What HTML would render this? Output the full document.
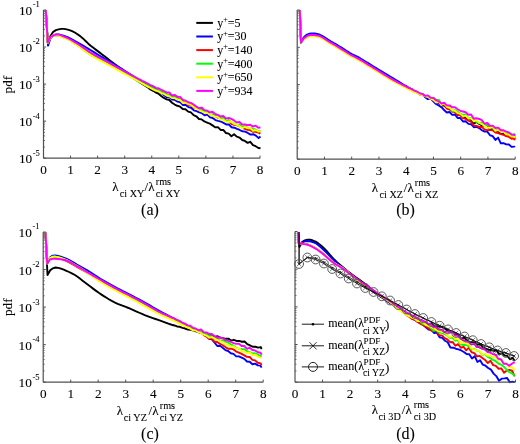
<!DOCTYPE html>
<html><head><meta charset="utf-8"><title>pdf figure</title>
<style>
html,body{margin:0;padding:0;background:#fff;}
body{width:520px;height:444px;overflow:hidden;}
svg{display:block;}
text{font-family:'Liberation Serif','Times New Roman',serif;fill:#000;stroke:#000;stroke-width:0.08px;}
</style></head><body>
<svg width="520" height="444" viewBox="0 0 520 444">
<rect width="520" height="444" fill="#fff"/>
<polyline points="45.80,10.00 47.80,43.00 50.50,35.96 53.20,31.83 55.90,30.18 58.60,29.40 61.30,28.90 64.00,28.85 66.70,29.33 69.40,30.12 72.10,31.10 74.80,32.53 77.50,34.26 80.20,36.14 82.90,38.40 85.60,41.04 88.30,43.69 91.00,46.02 93.70,48.11 96.40,50.12 99.10,52.12 101.80,54.18 104.50,56.27 107.20,58.36 109.90,60.42 112.60,62.47 115.30,64.49 118.00,66.51 120.70,68.52 123.40,70.56 126.10,72.61 128.80,74.66 131.50,76.68 134.20,78.64 136.90,80.53 139.60,82.32 142.30,84.02 145.00,85.67 147.70,87.33 150.40,89.40 153.10,90.78 155.80,92.58 158.50,93.67 161.20,95.90 163.90,97.95 166.60,99.41 169.30,99.97 172.00,102.77 174.70,104.55 177.40,105.77 180.10,106.66 182.80,109.01 185.50,109.30 188.20,111.60 190.90,112.43 193.60,115.13 196.30,116.28 199.00,118.99 201.70,119.39 204.40,121.44 207.10,122.52 209.80,123.62 212.50,125.38 215.20,127.33 217.90,127.15 220.60,129.93 223.30,129.83 226.00,133.05 228.70,133.60 231.40,136.25 234.10,134.27 236.80,136.65 239.50,137.54 242.20,140.01 244.90,140.94 247.60,142.89 250.30,141.84 253.00,145.16 255.70,146.22 258.40,147.94 260.50,148.27" fill="none" stroke="#000000" stroke-width="1.9" stroke-linejoin="round" stroke-linecap="butt" />
<polyline points="45.80,10.00 48.00,45.60 50.70,37.80 53.40,35.23 56.10,34.52 58.80,34.49 61.50,35.10 64.20,35.99 66.90,36.95 69.60,38.18 72.30,39.61 75.00,41.12 77.70,42.61 80.40,44.11 83.10,45.67 85.80,47.28 88.50,48.90 91.20,50.52 93.90,52.17 96.60,53.84 99.30,55.51 102.00,57.18 104.70,58.82 107.40,60.42 110.10,61.99 112.80,63.54 115.50,65.11 118.20,66.71 120.90,68.36 123.60,70.07 126.30,71.83 129.00,73.60 131.70,75.38 134.40,77.12 137.10,78.83 139.80,80.53 142.50,82.24 145.20,83.97 147.90,85.37 150.60,87.24 153.30,88.71 156.00,90.46 158.70,91.99 161.40,93.13 164.10,95.33 166.80,97.20 169.50,97.34 172.20,99.67 174.90,99.92 177.60,101.65 180.30,102.30 183.00,105.03 185.70,104.91 188.40,107.11 191.10,107.77 193.80,110.29 196.50,111.15 199.20,112.29 201.90,113.19 204.60,115.36 207.30,114.67 210.00,117.42 212.70,117.97 215.40,120.10 218.10,120.89 220.80,121.50 223.50,122.92 226.20,124.44 228.90,124.48 231.60,127.28 234.30,127.73 237.00,128.95 239.70,129.98 242.40,131.31 245.10,131.63 247.80,132.96 250.50,134.62 253.20,134.21 255.90,135.60 258.60,138.09 260.50,136.52" fill="none" stroke="#0000ff" stroke-width="1.9" stroke-linejoin="round" stroke-linecap="butt" />
<polyline points="45.80,10.00 47.80,43.00 50.50,37.52 53.20,35.49 55.90,35.03 58.60,35.47 61.30,36.27 64.00,37.24 66.70,38.30 69.40,39.71 72.10,41.39 74.80,43.20 77.50,45.00 80.20,46.87 82.90,48.89 85.60,50.94 88.30,52.88 91.00,54.61 93.70,56.19 96.40,57.68 99.10,59.11 101.80,60.52 104.50,61.93 107.20,63.36 109.90,64.75 112.60,66.13 115.30,67.52 118.00,68.93 120.70,70.38 123.40,71.89 126.10,73.43 128.80,74.99 131.50,76.54 134.20,78.06 136.90,79.54 139.60,81.02 142.30,82.38 145.00,83.91 147.70,85.16 150.40,86.99 153.10,87.81 155.80,89.11 158.50,90.58 161.20,91.99 163.90,92.21 166.60,94.32 169.30,94.84 172.00,96.46 174.70,97.07 177.40,97.99 180.10,99.29 182.80,102.17 185.50,102.52 188.20,104.74 190.90,105.27 193.60,107.81 196.30,106.80 199.00,110.07 201.70,108.70 204.40,111.72 207.10,111.17 209.80,114.72 212.50,115.28 215.20,116.50 217.90,117.58 220.60,118.47 223.30,119.12 226.00,121.13 228.70,120.70 231.40,123.81 234.10,124.89 236.80,125.06 239.50,126.26 242.20,127.79 244.90,128.88 247.60,129.91 250.30,130.13 253.00,131.91 255.70,131.77 258.40,132.58 260.40,133.70" fill="none" stroke="#ff0000" stroke-width="1.9" stroke-linejoin="round" stroke-linecap="butt" />
<polyline points="45.80,10.00 47.80,43.00 50.50,37.52 53.20,35.49 55.90,35.04 58.60,35.52 61.30,36.38 64.00,37.42 66.70,38.52 69.40,39.94 72.10,41.61 74.80,43.40 77.50,45.20 80.20,47.09 82.90,49.13 85.60,51.21 88.30,53.18 91.00,54.92 93.70,56.50 96.40,57.98 99.10,59.41 101.80,60.81 104.50,62.23 107.20,63.67 109.90,65.09 112.60,66.50 115.30,67.91 118.00,69.33 120.70,70.78 123.40,72.24 126.10,73.71 128.80,75.20 131.50,76.68 134.20,78.16 136.90,79.65 139.60,81.17 142.30,82.69 145.00,84.39 147.70,85.63 150.40,87.07 153.10,88.30 155.80,89.51 158.50,90.61 161.20,91.65 163.90,92.84 166.60,94.44 169.30,95.28 172.00,96.49 174.70,97.44 177.40,98.69 180.10,99.43 182.80,101.70 185.50,100.54 188.20,103.70 190.90,104.24 193.60,106.07 196.30,106.78 199.00,108.07 201.70,109.73 204.40,111.77 207.10,111.78 209.80,115.03 212.50,114.15 215.20,116.21 217.90,115.84 220.60,118.41 223.30,117.94 226.00,121.07 228.70,120.08 231.40,122.48 234.10,123.67 236.80,125.14 239.50,124.39 242.20,127.06 244.90,126.00 247.60,128.17 250.30,127.90 253.00,128.97 255.70,129.43 258.40,131.56 260.40,130.32" fill="none" stroke="#00ff00" stroke-width="1.9" stroke-linejoin="round" stroke-linecap="butt" />
<polyline points="45.80,10.00 47.75,43.00 50.45,37.64 53.15,35.22 55.85,35.13 58.55,35.70 61.25,36.59 63.95,37.60 66.65,38.70 69.35,40.13 72.05,41.82 74.75,43.64 77.45,45.47 80.15,47.37 82.85,49.44 85.55,51.54 88.25,53.53 90.95,55.29 93.65,56.89 96.35,58.39 99.05,59.83 101.75,61.25 104.45,62.70 107.15,64.18 109.85,65.66 112.55,67.13 115.25,68.60 117.95,70.08 120.65,71.56 123.35,73.05 126.05,74.55 128.75,76.04 131.45,77.54 134.15,79.03 136.85,80.53 139.55,82.04 142.25,83.54 144.95,85.14 147.65,86.58 150.35,87.98 153.05,89.32 155.75,90.57 158.45,91.37 161.15,93.05 163.85,93.85 166.55,95.51 169.25,96.31 171.95,98.08 174.65,98.11 177.35,99.59 180.05,99.91 182.75,102.99 185.45,102.49 188.15,103.95 190.85,104.83 193.55,107.08 196.25,108.35 198.95,109.99 201.65,111.39 204.35,112.68 207.05,112.79 209.75,114.51 212.45,115.62 215.15,116.90 217.85,116.84 220.55,119.60 223.25,119.52 225.95,121.94 228.65,121.55 231.35,121.76 234.05,124.01 236.75,124.39 239.45,126.19 242.15,128.28 244.85,126.82 247.55,128.16 250.25,127.86 252.95,130.87 255.65,130.01 258.35,131.44 260.40,131.18" fill="none" stroke="#ffff00" stroke-width="1.9" stroke-linejoin="round" stroke-linecap="butt" />
<polyline points="45.80,10.00 47.75,42.50 50.45,37.00 53.15,35.38 55.85,34.58 58.55,34.65 61.25,35.46 63.95,36.57 66.65,37.69 69.35,39.02 72.05,40.53 74.75,42.14 77.45,43.77 80.15,45.49 82.85,47.35 85.55,49.25 88.25,51.09 90.95,52.77 93.65,54.34 96.35,55.84 99.05,57.29 101.75,58.74 104.45,60.20 107.15,61.68 109.85,63.16 112.55,64.63 115.25,66.10 117.95,67.58 120.65,69.06 123.35,70.56 126.05,72.07 128.75,73.57 131.45,75.07 134.15,76.54 136.85,77.99 139.55,79.44 142.25,80.85 144.95,82.18 147.65,83.50 150.35,85.04 153.05,86.14 155.75,87.90 158.45,88.30 161.15,89.79 163.85,90.98 166.55,92.43 169.25,92.43 171.95,95.50 174.65,94.89 177.35,96.87 180.05,96.86 182.75,99.95 185.45,100.56 188.15,102.26 190.85,102.91 193.55,104.56 196.25,106.60 198.95,108.24 201.65,107.55 204.35,110.07 207.05,110.67 209.75,112.39 212.45,111.71 215.15,113.99 217.85,114.84 220.55,116.46 223.25,116.02 225.95,118.64 228.65,117.84 231.35,118.95 234.05,120.40 236.75,122.39 239.45,122.01 242.15,124.53 244.85,124.38 247.55,125.26 250.25,124.73 252.95,126.64 255.65,125.64 258.35,127.79 260.40,127.39" fill="none" stroke="#ff00ff" stroke-width="1.9" stroke-linejoin="round" stroke-linecap="butt" />
<line x1="43.5" y1="10" x2="43.5" y2="158.2" stroke="#505050" stroke-width="1.2"/>
<line x1="43.5" y1="158.2" x2="260.0" y2="158.2" stroke="#505050" stroke-width="1.2"/>
<line x1="70.56" y1="158.2" x2="70.56" y2="155.6" stroke="#505050" stroke-width="1"/>
<line x1="97.62" y1="158.2" x2="97.62" y2="155.6" stroke="#505050" stroke-width="1"/>
<line x1="124.69" y1="158.2" x2="124.69" y2="155.6" stroke="#505050" stroke-width="1"/>
<line x1="151.75" y1="158.2" x2="151.75" y2="155.6" stroke="#505050" stroke-width="1"/>
<line x1="178.81" y1="158.2" x2="178.81" y2="155.6" stroke="#505050" stroke-width="1"/>
<line x1="205.88" y1="158.2" x2="205.88" y2="155.6" stroke="#505050" stroke-width="1"/>
<line x1="232.94" y1="158.2" x2="232.94" y2="155.6" stroke="#505050" stroke-width="1"/>
<line x1="260.00" y1="158.2" x2="260.00" y2="155.6" stroke="#505050" stroke-width="1"/>
<line x1="43.5" y1="10.00" x2="46.1" y2="10.00" stroke="#505050" stroke-width="1"/>
<line x1="43.5" y1="35.90" x2="45.0" y2="35.90" stroke="#505050" stroke-width="0.8"/>
<line x1="43.5" y1="29.37" x2="45.0" y2="29.37" stroke="#505050" stroke-width="0.8"/>
<line x1="43.5" y1="24.74" x2="45.0" y2="24.74" stroke="#505050" stroke-width="0.8"/>
<line x1="43.5" y1="21.15" x2="45.0" y2="21.15" stroke="#505050" stroke-width="0.8"/>
<line x1="43.5" y1="18.22" x2="45.0" y2="18.22" stroke="#505050" stroke-width="0.8"/>
<line x1="43.5" y1="15.74" x2="45.0" y2="15.74" stroke="#505050" stroke-width="0.8"/>
<line x1="43.5" y1="13.59" x2="45.0" y2="13.59" stroke="#505050" stroke-width="0.8"/>
<line x1="43.5" y1="11.70" x2="45.0" y2="11.70" stroke="#505050" stroke-width="0.8"/>
<line x1="43.5" y1="47.05" x2="46.1" y2="47.05" stroke="#505050" stroke-width="1"/>
<line x1="43.5" y1="72.95" x2="45.0" y2="72.95" stroke="#505050" stroke-width="0.8"/>
<line x1="43.5" y1="66.42" x2="45.0" y2="66.42" stroke="#505050" stroke-width="0.8"/>
<line x1="43.5" y1="61.79" x2="45.0" y2="61.79" stroke="#505050" stroke-width="0.8"/>
<line x1="43.5" y1="58.20" x2="45.0" y2="58.20" stroke="#505050" stroke-width="0.8"/>
<line x1="43.5" y1="55.27" x2="45.0" y2="55.27" stroke="#505050" stroke-width="0.8"/>
<line x1="43.5" y1="52.79" x2="45.0" y2="52.79" stroke="#505050" stroke-width="0.8"/>
<line x1="43.5" y1="50.64" x2="45.0" y2="50.64" stroke="#505050" stroke-width="0.8"/>
<line x1="43.5" y1="48.75" x2="45.0" y2="48.75" stroke="#505050" stroke-width="0.8"/>
<line x1="43.5" y1="84.10" x2="46.1" y2="84.10" stroke="#505050" stroke-width="1"/>
<line x1="43.5" y1="110.00" x2="45.0" y2="110.00" stroke="#505050" stroke-width="0.8"/>
<line x1="43.5" y1="103.47" x2="45.0" y2="103.47" stroke="#505050" stroke-width="0.8"/>
<line x1="43.5" y1="98.84" x2="45.0" y2="98.84" stroke="#505050" stroke-width="0.8"/>
<line x1="43.5" y1="95.25" x2="45.0" y2="95.25" stroke="#505050" stroke-width="0.8"/>
<line x1="43.5" y1="92.32" x2="45.0" y2="92.32" stroke="#505050" stroke-width="0.8"/>
<line x1="43.5" y1="89.84" x2="45.0" y2="89.84" stroke="#505050" stroke-width="0.8"/>
<line x1="43.5" y1="87.69" x2="45.0" y2="87.69" stroke="#505050" stroke-width="0.8"/>
<line x1="43.5" y1="85.80" x2="45.0" y2="85.80" stroke="#505050" stroke-width="0.8"/>
<line x1="43.5" y1="121.15" x2="46.1" y2="121.15" stroke="#505050" stroke-width="1"/>
<line x1="43.5" y1="147.05" x2="45.0" y2="147.05" stroke="#505050" stroke-width="0.8"/>
<line x1="43.5" y1="140.52" x2="45.0" y2="140.52" stroke="#505050" stroke-width="0.8"/>
<line x1="43.5" y1="135.89" x2="45.0" y2="135.89" stroke="#505050" stroke-width="0.8"/>
<line x1="43.5" y1="132.30" x2="45.0" y2="132.30" stroke="#505050" stroke-width="0.8"/>
<line x1="43.5" y1="129.37" x2="45.0" y2="129.37" stroke="#505050" stroke-width="0.8"/>
<line x1="43.5" y1="126.89" x2="45.0" y2="126.89" stroke="#505050" stroke-width="0.8"/>
<line x1="43.5" y1="124.74" x2="45.0" y2="124.74" stroke="#505050" stroke-width="0.8"/>
<line x1="43.5" y1="122.85" x2="45.0" y2="122.85" stroke="#505050" stroke-width="0.8"/>
<line x1="43.5" y1="158.20" x2="46.1" y2="158.20" stroke="#505050" stroke-width="1"/>
<text x="43.50" y="173.60" text-anchor="middle" font-size="13.2">0</text>
<text x="70.56" y="173.60" text-anchor="middle" font-size="13.2">1</text>
<text x="97.62" y="173.60" text-anchor="middle" font-size="13.2">2</text>
<text x="124.69" y="173.60" text-anchor="middle" font-size="13.2">3</text>
<text x="151.75" y="173.60" text-anchor="middle" font-size="13.2">4</text>
<text x="178.81" y="173.60" text-anchor="middle" font-size="13.2">5</text>
<text x="205.88" y="173.60" text-anchor="middle" font-size="13.2">6</text>
<text x="232.94" y="173.60" text-anchor="middle" font-size="13.2">7</text>
<text x="260.00" y="173.60" text-anchor="middle" font-size="13.2">8</text>
<text x="32.20" y="15.20" text-anchor="end" font-size="13.3">10</text>
<text x="32.70" y="7.40" font-size="8.5">-1</text>
<text x="32.20" y="52.25" text-anchor="end" font-size="13.3">10</text>
<text x="32.70" y="44.45" font-size="8.5">-2</text>
<text x="32.20" y="89.30" text-anchor="end" font-size="13.3">10</text>
<text x="32.70" y="81.50" font-size="8.5">-3</text>
<text x="32.20" y="126.35" text-anchor="end" font-size="13.3">10</text>
<text x="32.70" y="118.55" font-size="8.5">-4</text>
<text x="32.20" y="163.40" text-anchor="end" font-size="13.3">10</text>
<text x="32.70" y="155.60" font-size="8.5">-5</text>
<line x1="196.3" y1="22.90" x2="212.9" y2="22.90" stroke="#000000" stroke-width="2"/>
<text x="217.2" y="26.80" font-size="12">y<tspan font-size="8.2" dy="-4.7">+</tspan><tspan dy="4.7">=5</tspan></text>
<line x1="196.3" y1="36.50" x2="212.9" y2="36.50" stroke="#0000ff" stroke-width="2"/>
<text x="217.2" y="40.40" font-size="12">y<tspan font-size="8.2" dy="-4.7">+</tspan><tspan dy="4.7">=30</tspan></text>
<line x1="196.3" y1="50.10" x2="212.9" y2="50.10" stroke="#ff0000" stroke-width="2"/>
<text x="217.2" y="54.00" font-size="12">y<tspan font-size="8.2" dy="-4.7">+</tspan><tspan dy="4.7">=140</tspan></text>
<line x1="196.3" y1="63.70" x2="212.9" y2="63.70" stroke="#00ff00" stroke-width="2"/>
<text x="217.2" y="67.60" font-size="12">y<tspan font-size="8.2" dy="-4.7">+</tspan><tspan dy="4.7">=400</tspan></text>
<line x1="196.3" y1="77.30" x2="212.9" y2="77.30" stroke="#ffff00" stroke-width="2"/>
<text x="217.2" y="81.20" font-size="12">y<tspan font-size="8.2" dy="-4.7">+</tspan><tspan dy="4.7">=650</tspan></text>
<line x1="196.3" y1="90.90" x2="212.9" y2="90.90" stroke="#ff00ff" stroke-width="2"/>
<text x="217.2" y="94.80" font-size="12">y<tspan font-size="8.2" dy="-4.7">+</tspan><tspan dy="4.7">=934</tspan></text>
<polyline points="299.80,10.00 301.00,42.50 303.70,38.76 306.40,36.72 309.10,35.53 311.80,35.05 314.50,35.26 317.20,35.74 319.90,36.47 322.60,37.78 325.30,39.45 328.00,41.24 330.70,42.92 333.40,44.49 336.10,46.09 338.80,47.71 341.50,49.37 344.20,51.07 346.90,52.87 349.60,54.57 352.30,56.00 355.00,57.29 357.70,58.64 360.40,60.15 363.10,61.76 365.80,63.44 368.50,65.13 371.20,66.80 373.90,68.44 376.60,70.11 379.30,71.80 382.00,73.48 384.70,75.14 387.40,76.78 390.10,78.37 392.80,79.91 395.50,81.39 398.20,82.82 400.90,84.22 403.60,85.55 406.30,86.98 409.00,88.32 411.70,89.17 414.40,91.06 417.10,91.99 419.80,94.11 422.50,94.25 425.20,96.58 427.90,97.16 430.60,98.40 433.30,99.26 436.00,102.21 438.70,102.72 441.40,105.64 444.10,105.44 446.80,107.91 449.50,108.47 452.20,111.57 454.90,110.87 457.60,114.03 460.30,115.02 463.00,116.05 465.70,118.16 468.40,119.08 471.10,119.79 473.80,123.58 476.50,121.86 479.20,123.93 481.90,125.31 484.60,126.05 487.30,126.48 490.00,129.13 492.70,129.08 495.40,131.34 498.10,131.49 500.80,134.03 503.50,133.93 506.20,135.72 508.90,134.79 511.60,136.89 514.30,136.32 514.60,138.76" fill="none" stroke="#000000" stroke-width="1.9" stroke-linejoin="round" stroke-linecap="butt" />
<polyline points="299.80,10.00 301.00,42.50 303.70,37.45 306.40,34.99 309.10,33.80 311.80,33.35 314.50,33.56 317.20,34.04 319.90,34.77 322.60,36.08 325.30,37.75 328.00,39.54 330.70,41.22 333.40,42.79 336.10,44.39 338.80,46.01 341.50,47.67 344.20,49.37 346.90,51.17 349.60,52.87 352.30,54.30 355.00,55.59 357.70,56.94 360.40,58.45 363.10,60.06 365.80,61.74 368.50,63.43 371.20,65.10 373.90,66.73 376.60,68.37 379.30,70.01 382.00,71.65 384.70,73.29 387.40,74.92 390.10,76.55 392.80,78.18 395.50,79.80 398.20,81.43 400.90,83.04 403.60,84.76 406.30,86.11 409.00,87.93 411.70,89.24 414.40,91.71 417.10,92.41 419.80,94.15 422.50,94.61 425.20,97.12 427.90,99.15 430.60,98.43 433.30,101.36 436.00,104.02 438.70,105.35 441.40,107.11 444.10,109.99 446.80,112.48 449.50,111.99 452.20,114.82 454.90,114.44 457.60,117.95 460.30,118.05 463.00,121.54 465.70,121.32 468.40,123.92 471.10,124.23 473.80,127.23 476.50,126.91 479.20,128.10 481.90,130.26 484.60,131.66 487.30,131.59 490.00,135.25 492.70,136.16 495.40,139.90 498.10,137.63 500.80,143.32 503.50,143.24 506.20,144.38 508.90,144.48 511.60,146.90 514.30,146.62 514.60,147.43" fill="none" stroke="#0000ff" stroke-width="1.9" stroke-linejoin="round" stroke-linecap="butt" />
<polyline points="299.80,10.00 301.00,42.50 303.70,39.14 306.40,37.23 309.10,36.04 311.80,35.55 314.50,35.76 317.20,36.24 319.90,36.97 322.60,38.28 325.30,39.95 328.00,41.74 330.70,43.42 333.40,44.99 336.10,46.59 338.80,48.21 341.50,49.87 344.20,51.57 346.90,53.37 349.60,55.07 352.30,56.50 355.00,57.79 357.70,59.14 360.40,60.65 363.10,62.26 365.80,63.94 368.50,65.63 371.20,67.30 373.90,68.94 376.60,70.61 379.30,72.30 382.00,73.98 384.70,75.64 387.40,77.28 390.10,78.87 392.80,80.41 395.50,81.90 398.20,83.35 400.90,84.74 403.60,86.18 406.30,87.46 409.00,88.92 411.70,90.28 414.40,91.61 417.10,92.29 419.80,94.63 422.50,94.40 425.20,95.94 427.90,96.55 430.60,98.67 433.30,99.70 436.00,102.01 438.70,101.70 441.40,104.53 444.10,104.63 446.80,108.57 449.50,109.51 452.20,111.01 454.90,112.20 457.60,115.13 460.30,115.43 463.00,118.20 465.70,118.94 468.40,120.76 471.10,121.99 473.80,125.59 476.50,125.86 479.20,127.00 481.90,126.86 484.60,129.69 487.30,130.17 490.00,130.14 492.70,130.17 495.40,132.46 498.10,133.19 500.80,134.16 503.50,134.89 506.20,136.17 508.90,136.93 511.60,138.76 514.30,138.32 514.60,140.49" fill="none" stroke="#ff0000" stroke-width="1.9" stroke-linejoin="round" stroke-linecap="butt" />
<polyline points="299.80,10.00 301.00,42.50 303.70,38.92 306.40,36.92 309.10,35.73 311.80,35.25 314.50,35.46 317.20,35.94 319.90,36.67 322.60,37.98 325.30,39.65 328.00,41.44 330.70,43.12 333.40,44.69 336.10,46.29 338.80,47.91 341.50,49.57 344.20,51.27 346.90,53.07 349.60,54.77 352.30,56.20 355.00,57.49 357.70,58.84 360.40,60.35 363.10,61.96 365.80,63.64 368.50,65.33 371.20,67.00 373.90,68.64 376.60,70.31 379.30,72.00 382.00,73.68 384.70,75.34 387.40,76.98 390.10,78.57 392.80,80.11 395.50,81.60 398.20,83.06 400.90,84.46 403.60,85.91 406.30,87.14 409.00,88.69 411.70,89.70 414.40,91.34 417.10,91.81 419.80,94.28 422.50,94.09 425.20,96.40 427.90,96.97 430.60,98.38 433.30,97.91 436.00,99.62 438.70,99.95 441.40,103.26 444.10,103.92 446.80,105.82 449.50,106.17 452.20,111.22 454.90,110.07 457.60,111.79 460.30,113.56 463.00,115.02 465.70,114.44 468.40,118.37 471.10,118.03 473.80,120.71 476.50,121.90 479.20,123.12 481.90,122.41 484.60,126.29 487.30,123.75 490.00,126.47 492.70,128.31 495.40,130.44 498.10,129.28 500.80,131.06 503.50,131.68 506.20,133.88 508.90,133.47 511.60,135.11 514.30,134.26 514.60,135.90" fill="none" stroke="#00ff00" stroke-width="1.9" stroke-linejoin="round" stroke-linecap="butt" />
<polyline points="299.80,10.00 301.00,42.50 303.70,39.53 306.40,37.74 309.10,36.55 311.80,36.05 314.50,36.26 317.20,36.74 319.90,37.47 322.60,38.78 325.30,40.45 328.00,42.24 330.70,43.92 333.40,45.49 336.10,47.09 338.80,48.71 341.50,50.37 344.20,52.07 346.90,53.87 349.60,55.57 352.30,57.00 355.00,58.29 357.70,59.64 360.40,61.15 363.10,62.76 365.80,64.44 368.50,66.13 371.20,67.80 373.90,69.44 376.60,71.11 379.30,72.80 382.00,74.48 384.70,76.14 387.40,77.78 390.10,79.37 392.80,80.91 395.50,82.40 398.20,83.87 400.90,85.30 403.60,86.74 406.30,88.22 409.00,89.62 411.70,90.40 414.40,92.45 417.10,92.67 419.80,94.36 422.50,95.27 425.20,96.18 427.90,96.74 430.60,98.65 433.30,99.86 436.00,102.27 438.70,101.73 441.40,105.04 444.10,103.34 446.80,106.76 449.50,107.85 452.20,109.84 454.90,110.76 457.60,113.12 460.30,113.90 463.00,116.39 465.70,115.54 468.40,118.47 471.10,118.41 473.80,121.45 476.50,120.23 479.20,122.81 481.90,124.09 484.60,126.01 487.30,127.32 490.00,127.96 492.70,126.27 495.40,130.82 498.10,130.03 500.80,131.83 503.50,131.29 506.20,134.31 508.90,134.80 511.60,136.62 514.30,136.49 514.60,138.05" fill="none" stroke="#ffff00" stroke-width="1.9" stroke-linejoin="round" stroke-linecap="butt" />
<polyline points="299.80,10.00 301.00,42.50 303.70,38.53 306.40,36.41 309.10,35.22 311.80,34.75 314.50,34.96 317.20,35.44 319.90,36.17 322.60,37.48 325.30,39.15 328.00,40.94 330.70,42.62 333.40,44.19 336.10,45.79 338.80,47.41 341.50,49.07 344.20,50.77 346.90,52.57 349.60,54.27 352.30,55.70 355.00,56.99 357.70,58.34 360.40,59.85 363.10,61.46 365.80,63.14 368.50,64.83 371.20,66.50 373.90,68.14 376.60,69.81 379.30,71.50 382.00,73.18 384.70,74.84 387.40,76.48 390.10,78.07 392.80,79.61 395.50,81.10 398.20,82.57 400.90,83.98 403.60,85.39 406.30,86.63 409.00,88.13 411.70,89.13 414.40,90.54 417.10,91.71 419.80,93.25 422.50,94.16 425.20,95.93 427.90,95.37 430.60,97.75 433.30,97.84 436.00,100.19 438.70,101.50 441.40,103.60 444.10,102.76 446.80,105.35 449.50,105.35 452.20,107.29 454.90,107.31 457.60,109.21 460.30,110.80 463.00,111.48 465.70,112.23 468.40,114.70 471.10,114.53 473.80,118.79 476.50,118.27 479.20,118.96 481.90,120.21 484.60,123.72 487.30,123.02 490.00,125.89 492.70,125.79 495.40,128.03 498.10,127.58 500.80,130.22 503.50,130.28 506.20,131.66 508.90,132.46 511.60,134.57 514.30,134.64 514.60,135.86" fill="none" stroke="#ff00ff" stroke-width="1.9" stroke-linejoin="round" stroke-linecap="butt" />
<line x1="297.2" y1="10" x2="297.2" y2="159.2" stroke="#505050" stroke-width="1.2"/>
<line x1="297.2" y1="159.2" x2="515.2" y2="159.2" stroke="#505050" stroke-width="1.2"/>
<line x1="324.45" y1="159.2" x2="324.45" y2="156.6" stroke="#505050" stroke-width="1"/>
<line x1="351.70" y1="159.2" x2="351.70" y2="156.6" stroke="#505050" stroke-width="1"/>
<line x1="378.95" y1="159.2" x2="378.95" y2="156.6" stroke="#505050" stroke-width="1"/>
<line x1="406.20" y1="159.2" x2="406.20" y2="156.6" stroke="#505050" stroke-width="1"/>
<line x1="433.45" y1="159.2" x2="433.45" y2="156.6" stroke="#505050" stroke-width="1"/>
<line x1="460.70" y1="159.2" x2="460.70" y2="156.6" stroke="#505050" stroke-width="1"/>
<line x1="487.95" y1="159.2" x2="487.95" y2="156.6" stroke="#505050" stroke-width="1"/>
<line x1="515.20" y1="159.2" x2="515.20" y2="156.6" stroke="#505050" stroke-width="1"/>
<line x1="297.2" y1="10.00" x2="299.8" y2="10.00" stroke="#505050" stroke-width="1"/>
<line x1="297.2" y1="36.07" x2="298.7" y2="36.07" stroke="#505050" stroke-width="0.8"/>
<line x1="297.2" y1="29.50" x2="298.7" y2="29.50" stroke="#505050" stroke-width="0.8"/>
<line x1="297.2" y1="24.84" x2="298.7" y2="24.84" stroke="#505050" stroke-width="0.8"/>
<line x1="297.2" y1="21.23" x2="298.7" y2="21.23" stroke="#505050" stroke-width="0.8"/>
<line x1="297.2" y1="18.27" x2="298.7" y2="18.27" stroke="#505050" stroke-width="0.8"/>
<line x1="297.2" y1="15.78" x2="298.7" y2="15.78" stroke="#505050" stroke-width="0.8"/>
<line x1="297.2" y1="13.61" x2="298.7" y2="13.61" stroke="#505050" stroke-width="0.8"/>
<line x1="297.2" y1="11.71" x2="298.7" y2="11.71" stroke="#505050" stroke-width="0.8"/>
<line x1="297.2" y1="47.30" x2="299.8" y2="47.30" stroke="#505050" stroke-width="1"/>
<line x1="297.2" y1="73.37" x2="298.7" y2="73.37" stroke="#505050" stroke-width="0.8"/>
<line x1="297.2" y1="66.80" x2="298.7" y2="66.80" stroke="#505050" stroke-width="0.8"/>
<line x1="297.2" y1="62.14" x2="298.7" y2="62.14" stroke="#505050" stroke-width="0.8"/>
<line x1="297.2" y1="58.53" x2="298.7" y2="58.53" stroke="#505050" stroke-width="0.8"/>
<line x1="297.2" y1="55.57" x2="298.7" y2="55.57" stroke="#505050" stroke-width="0.8"/>
<line x1="297.2" y1="53.08" x2="298.7" y2="53.08" stroke="#505050" stroke-width="0.8"/>
<line x1="297.2" y1="50.91" x2="298.7" y2="50.91" stroke="#505050" stroke-width="0.8"/>
<line x1="297.2" y1="49.01" x2="298.7" y2="49.01" stroke="#505050" stroke-width="0.8"/>
<line x1="297.2" y1="84.60" x2="299.8" y2="84.60" stroke="#505050" stroke-width="1"/>
<line x1="297.2" y1="110.67" x2="298.7" y2="110.67" stroke="#505050" stroke-width="0.8"/>
<line x1="297.2" y1="104.10" x2="298.7" y2="104.10" stroke="#505050" stroke-width="0.8"/>
<line x1="297.2" y1="99.44" x2="298.7" y2="99.44" stroke="#505050" stroke-width="0.8"/>
<line x1="297.2" y1="95.83" x2="298.7" y2="95.83" stroke="#505050" stroke-width="0.8"/>
<line x1="297.2" y1="92.87" x2="298.7" y2="92.87" stroke="#505050" stroke-width="0.8"/>
<line x1="297.2" y1="90.38" x2="298.7" y2="90.38" stroke="#505050" stroke-width="0.8"/>
<line x1="297.2" y1="88.21" x2="298.7" y2="88.21" stroke="#505050" stroke-width="0.8"/>
<line x1="297.2" y1="86.31" x2="298.7" y2="86.31" stroke="#505050" stroke-width="0.8"/>
<line x1="297.2" y1="121.90" x2="299.8" y2="121.90" stroke="#505050" stroke-width="1"/>
<line x1="297.2" y1="147.97" x2="298.7" y2="147.97" stroke="#505050" stroke-width="0.8"/>
<line x1="297.2" y1="141.40" x2="298.7" y2="141.40" stroke="#505050" stroke-width="0.8"/>
<line x1="297.2" y1="136.74" x2="298.7" y2="136.74" stroke="#505050" stroke-width="0.8"/>
<line x1="297.2" y1="133.13" x2="298.7" y2="133.13" stroke="#505050" stroke-width="0.8"/>
<line x1="297.2" y1="130.17" x2="298.7" y2="130.17" stroke="#505050" stroke-width="0.8"/>
<line x1="297.2" y1="127.68" x2="298.7" y2="127.68" stroke="#505050" stroke-width="0.8"/>
<line x1="297.2" y1="125.51" x2="298.7" y2="125.51" stroke="#505050" stroke-width="0.8"/>
<line x1="297.2" y1="123.61" x2="298.7" y2="123.61" stroke="#505050" stroke-width="0.8"/>
<line x1="297.2" y1="159.20" x2="299.8" y2="159.20" stroke="#505050" stroke-width="1"/>
<text x="297.20" y="174.60" text-anchor="middle" font-size="13.2">0</text>
<text x="324.45" y="174.60" text-anchor="middle" font-size="13.2">1</text>
<text x="351.70" y="174.60" text-anchor="middle" font-size="13.2">2</text>
<text x="378.95" y="174.60" text-anchor="middle" font-size="13.2">3</text>
<text x="406.20" y="174.60" text-anchor="middle" font-size="13.2">4</text>
<text x="433.45" y="174.60" text-anchor="middle" font-size="13.2">5</text>
<text x="460.70" y="174.60" text-anchor="middle" font-size="13.2">6</text>
<text x="487.95" y="174.60" text-anchor="middle" font-size="13.2">7</text>
<text x="515.20" y="174.60" text-anchor="middle" font-size="13.2">8</text>
<polyline points="45.50,232.50 47.50,275.00 50.20,270.29 52.90,268.34 55.60,267.52 58.30,267.84 61.00,268.60 63.70,269.68 66.40,270.80 69.10,272.00 71.80,273.31 74.50,274.79 77.20,276.57 79.90,278.58 82.60,280.68 85.30,282.72 88.00,284.74 90.70,286.81 93.40,288.87 96.10,290.87 98.80,292.79 101.50,294.59 104.20,296.36 106.90,298.07 109.60,299.70 112.30,301.22 115.00,302.60 117.70,303.82 120.40,304.91 123.10,305.94 125.80,306.95 128.50,307.99 131.20,309.11 133.90,310.30 136.60,311.53 139.30,312.76 142.00,313.95 144.70,315.08 147.40,316.13 150.10,317.12 152.80,318.08 155.50,319.02 158.20,319.97 160.90,320.92 163.60,321.90 166.30,322.88 169.00,323.83 171.70,324.74 174.40,325.46 177.10,326.45 179.80,326.81 182.50,327.93 185.20,328.55 187.90,329.59 190.60,329.91 193.30,330.47 196.00,331.43 198.70,332.32 201.40,333.11 204.10,333.70 206.80,334.63 209.50,335.64 212.20,335.69 214.90,336.64 217.60,336.31 220.30,337.66 223.00,338.19 225.70,338.81 228.40,338.61 231.10,340.59 233.80,339.81 236.50,340.98 239.20,340.91 241.90,341.75 244.60,341.45 247.30,344.12 250.00,345.39 252.70,346.74 255.40,346.75 258.10,347.61 260.80,347.07 261.60,349.18" fill="none" stroke="#000000" stroke-width="1.9" stroke-linejoin="round" stroke-linecap="butt" />
<polyline points="45.50,232.50 47.20,263.50 49.90,257.60 52.60,255.63 55.30,255.36 58.00,255.85 60.70,256.66 63.40,257.63 66.10,258.62 68.80,259.86 71.50,261.33 74.20,262.90 76.90,264.47 79.60,265.96 82.30,267.47 85.00,269.02 87.70,270.60 90.40,272.25 93.10,274.02 95.80,275.86 98.50,277.66 101.20,279.32 103.90,280.91 106.60,282.44 109.30,283.93 112.00,285.39 114.70,286.84 117.40,288.27 120.10,289.66 122.80,291.03 125.50,292.39 128.20,293.77 130.90,295.17 133.60,296.59 136.30,298.01 139.00,299.45 141.70,300.90 144.40,302.37 147.10,303.87 149.80,305.40 152.50,306.95 155.20,308.50 157.90,310.03 160.60,311.53 163.30,312.99 166.00,314.43 168.70,315.86 171.40,317.26 174.10,318.70 176.80,320.11 179.50,321.31 182.20,323.19 184.90,324.24 187.60,325.79 190.30,327.04 193.00,329.05 195.70,329.70 198.40,331.39 201.10,332.85 203.80,334.09 206.50,335.80 209.20,338.76 211.90,339.38 214.60,342.58 217.30,345.98 220.00,345.81 222.70,347.73 225.40,350.13 228.10,351.02 230.80,353.25 233.50,353.91 236.20,356.41 238.90,356.36 241.60,357.64 244.30,358.82 247.00,361.52 249.70,361.78 252.40,364.24 255.10,363.63 257.80,365.32 260.50,365.66 261.60,367.63" fill="none" stroke="#0000ff" stroke-width="1.9" stroke-linejoin="round" stroke-linecap="butt" />
<polyline points="45.50,232.50 47.20,263.50 49.90,258.58 52.60,257.05 55.30,256.88 58.00,257.51 60.70,258.53 63.40,259.72 66.10,260.87 68.80,262.20 71.50,263.70 74.20,265.28 76.90,266.86 79.60,268.39 82.30,269.95 85.00,271.53 87.70,273.13 90.40,274.74 93.10,276.39 95.80,278.06 98.50,279.71 101.20,281.30 103.90,282.86 106.60,284.39 109.30,285.90 112.00,287.38 114.70,288.84 117.40,290.27 120.10,291.66 122.80,293.03 125.50,294.39 128.20,295.77 130.90,297.17 133.60,298.59 136.30,300.01 139.00,301.45 141.70,302.90 144.40,304.37 147.10,305.88 149.80,307.45 152.50,309.04 155.20,310.61 157.90,312.11 160.60,313.50 163.30,314.77 166.00,315.97 168.70,317.15 171.40,318.38 174.10,319.54 176.80,320.87 179.50,321.92 182.20,323.51 184.90,324.52 187.60,326.32 190.30,327.04 193.00,328.75 195.70,329.29 198.40,332.07 201.10,332.44 203.80,335.11 206.50,336.63 209.20,338.61 211.90,338.67 214.60,341.87 217.30,342.07 220.00,343.94 222.70,345.24 225.40,347.08 228.10,348.73 230.80,348.60 233.50,349.45 236.20,351.57 238.90,352.65 241.60,353.93 244.30,355.45 247.00,356.92 249.70,357.00 252.40,359.81 255.10,360.38 257.80,362.77 260.50,363.36 261.60,365.09" fill="none" stroke="#ff0000" stroke-width="1.9" stroke-linejoin="round" stroke-linecap="butt" />
<polyline points="45.50,232.50 47.20,263.50 49.90,258.28 52.60,256.75 55.30,256.57 58.00,257.09 60.70,257.97 63.40,259.00 66.10,260.03 68.80,261.27 71.50,262.72 74.20,264.27 76.90,265.85 79.60,267.43 82.30,269.08 85.00,270.78 87.70,272.52 90.40,274.26 93.10,276.05 95.80,277.87 98.50,279.65 101.20,281.33 103.90,282.94 106.60,284.51 109.30,286.04 112.00,287.54 114.70,289.03 117.40,290.51 120.10,291.96 122.80,293.39 125.50,294.82 128.20,296.24 130.90,297.68 133.60,299.11 136.30,300.54 139.00,301.97 141.70,303.41 144.40,304.87 147.10,306.38 149.80,307.95 152.50,309.54 155.20,311.11 157.90,312.61 160.60,314.00 163.30,315.28 166.00,316.49 168.70,317.67 171.40,318.87 174.10,320.06 176.80,321.23 179.50,322.42 182.20,324.28 184.90,325.20 187.60,326.77 190.30,327.29 193.00,328.96 195.70,329.98 198.40,331.49 201.10,332.02 203.80,333.58 206.50,334.49 209.20,335.94 211.90,336.17 214.60,338.83 217.30,337.57 220.00,340.98 222.70,340.21 225.40,341.54 228.10,342.40 230.80,344.42 233.50,345.73 236.20,347.83 238.90,348.68 241.60,349.04 244.30,349.12 247.00,351.31 249.70,352.06 252.40,353.47 255.10,353.32 257.80,354.62 260.50,356.13 261.60,355.48" fill="none" stroke="#00ff00" stroke-width="1.9" stroke-linejoin="round" stroke-linecap="butt" />
<polyline points="45.50,232.50 47.20,263.50 49.90,258.07 52.60,256.80 55.30,256.66 58.00,257.14 60.70,257.95 63.40,258.92 66.10,259.92 68.80,261.21 71.50,262.76 74.20,264.44 76.90,266.13 79.60,267.81 82.30,269.58 85.00,271.40 87.70,273.24 90.40,275.07 93.10,276.93 95.80,278.81 98.50,280.64 101.20,282.34 103.90,283.97 106.60,285.54 109.30,287.06 112.00,288.56 114.70,290.04 117.40,291.49 120.10,292.89 122.80,294.28 125.50,295.66 128.20,297.05 130.90,298.48 133.60,299.94 136.30,301.42 139.00,302.90 141.70,304.39 144.40,305.87 147.10,307.36 149.80,308.88 152.50,310.40 155.20,311.89 157.90,313.33 160.60,314.69 163.30,315.96 166.00,317.16 168.70,318.35 171.40,319.56 174.10,320.73 176.80,322.15 179.50,323.55 182.20,324.95 184.90,326.16 187.60,327.34 190.30,328.69 193.00,330.42 195.70,330.47 198.40,332.21 201.10,333.21 203.80,334.73 206.50,335.71 209.20,337.64 211.90,337.17 214.60,338.55 217.30,339.84 220.00,341.20 222.70,342.30 225.40,344.42 228.10,344.83 230.80,346.58 233.50,346.34 236.20,348.40 238.90,347.86 241.60,351.21 244.30,351.70 247.00,352.98 249.70,352.45 252.40,355.03 255.10,354.60 257.80,356.62 260.50,357.66 261.60,357.90" fill="none" stroke="#ffff00" stroke-width="1.9" stroke-linejoin="round" stroke-linecap="butt" />
<polyline points="45.50,232.50 47.20,263.50 49.90,259.54 52.60,258.89 55.30,258.82 58.00,259.00 60.70,259.31 63.40,259.72 66.10,260.26 68.80,261.32 71.50,262.82 74.20,264.51 76.90,266.16 79.60,267.68 82.30,269.24 85.00,270.84 87.70,272.45 90.40,274.03 93.10,275.61 95.80,277.18 98.50,278.74 101.20,280.28 103.90,281.82 106.60,283.36 109.30,284.88 112.00,286.37 114.70,287.84 117.40,289.27 120.10,290.66 122.80,292.03 125.50,293.39 128.20,294.77 130.90,296.17 133.60,297.59 136.30,299.01 139.00,300.45 141.70,301.90 144.40,303.37 147.10,304.88 149.80,306.45 152.50,308.04 155.20,309.61 157.90,311.11 160.60,312.50 163.30,313.77 166.00,314.98 168.70,316.16 171.40,317.37 174.10,318.48 176.80,319.95 179.50,320.93 182.20,322.54 184.90,323.59 187.60,325.38 190.30,325.79 193.00,327.85 195.70,328.51 198.40,330.21 201.10,329.52 203.80,332.37 206.50,332.35 209.20,333.98 211.90,333.98 214.60,336.25 217.30,337.74 220.00,337.50 222.70,338.06 225.40,340.18 228.10,340.68 230.80,341.77 233.50,343.10 236.20,343.90 238.90,343.69 241.60,346.03 244.30,346.02 247.00,348.80 249.70,347.73 252.40,350.05 255.10,350.47 257.80,352.31 260.50,352.75 261.60,354.68" fill="none" stroke="#ff00ff" stroke-width="1.9" stroke-linejoin="round" stroke-linecap="butt" />
<line x1="43.2" y1="232" x2="43.2" y2="382.2" stroke="#505050" stroke-width="1.2"/>
<line x1="43.2" y1="382.2" x2="263.2" y2="382.2" stroke="#505050" stroke-width="1.2"/>
<line x1="70.70" y1="382.2" x2="70.70" y2="379.59999999999997" stroke="#505050" stroke-width="1"/>
<line x1="98.20" y1="382.2" x2="98.20" y2="379.59999999999997" stroke="#505050" stroke-width="1"/>
<line x1="125.70" y1="382.2" x2="125.70" y2="379.59999999999997" stroke="#505050" stroke-width="1"/>
<line x1="153.20" y1="382.2" x2="153.20" y2="379.59999999999997" stroke="#505050" stroke-width="1"/>
<line x1="180.70" y1="382.2" x2="180.70" y2="379.59999999999997" stroke="#505050" stroke-width="1"/>
<line x1="208.20" y1="382.2" x2="208.20" y2="379.59999999999997" stroke="#505050" stroke-width="1"/>
<line x1="235.70" y1="382.2" x2="235.70" y2="379.59999999999997" stroke="#505050" stroke-width="1"/>
<line x1="263.20" y1="382.2" x2="263.20" y2="379.59999999999997" stroke="#505050" stroke-width="1"/>
<line x1="43.2" y1="232.00" x2="45.800000000000004" y2="232.00" stroke="#505050" stroke-width="1"/>
<line x1="43.2" y1="258.25" x2="44.7" y2="258.25" stroke="#505050" stroke-width="0.8"/>
<line x1="43.2" y1="251.63" x2="44.7" y2="251.63" stroke="#505050" stroke-width="0.8"/>
<line x1="43.2" y1="246.94" x2="44.7" y2="246.94" stroke="#505050" stroke-width="0.8"/>
<line x1="43.2" y1="243.30" x2="44.7" y2="243.30" stroke="#505050" stroke-width="0.8"/>
<line x1="43.2" y1="240.33" x2="44.7" y2="240.33" stroke="#505050" stroke-width="0.8"/>
<line x1="43.2" y1="237.82" x2="44.7" y2="237.82" stroke="#505050" stroke-width="0.8"/>
<line x1="43.2" y1="235.64" x2="44.7" y2="235.64" stroke="#505050" stroke-width="0.8"/>
<line x1="43.2" y1="233.72" x2="44.7" y2="233.72" stroke="#505050" stroke-width="0.8"/>
<line x1="43.2" y1="269.55" x2="45.800000000000004" y2="269.55" stroke="#505050" stroke-width="1"/>
<line x1="43.2" y1="295.80" x2="44.7" y2="295.80" stroke="#505050" stroke-width="0.8"/>
<line x1="43.2" y1="289.18" x2="44.7" y2="289.18" stroke="#505050" stroke-width="0.8"/>
<line x1="43.2" y1="284.49" x2="44.7" y2="284.49" stroke="#505050" stroke-width="0.8"/>
<line x1="43.2" y1="280.85" x2="44.7" y2="280.85" stroke="#505050" stroke-width="0.8"/>
<line x1="43.2" y1="277.88" x2="44.7" y2="277.88" stroke="#505050" stroke-width="0.8"/>
<line x1="43.2" y1="275.37" x2="44.7" y2="275.37" stroke="#505050" stroke-width="0.8"/>
<line x1="43.2" y1="273.19" x2="44.7" y2="273.19" stroke="#505050" stroke-width="0.8"/>
<line x1="43.2" y1="271.27" x2="44.7" y2="271.27" stroke="#505050" stroke-width="0.8"/>
<line x1="43.2" y1="307.10" x2="45.800000000000004" y2="307.10" stroke="#505050" stroke-width="1"/>
<line x1="43.2" y1="333.35" x2="44.7" y2="333.35" stroke="#505050" stroke-width="0.8"/>
<line x1="43.2" y1="326.73" x2="44.7" y2="326.73" stroke="#505050" stroke-width="0.8"/>
<line x1="43.2" y1="322.04" x2="44.7" y2="322.04" stroke="#505050" stroke-width="0.8"/>
<line x1="43.2" y1="318.40" x2="44.7" y2="318.40" stroke="#505050" stroke-width="0.8"/>
<line x1="43.2" y1="315.43" x2="44.7" y2="315.43" stroke="#505050" stroke-width="0.8"/>
<line x1="43.2" y1="312.92" x2="44.7" y2="312.92" stroke="#505050" stroke-width="0.8"/>
<line x1="43.2" y1="310.74" x2="44.7" y2="310.74" stroke="#505050" stroke-width="0.8"/>
<line x1="43.2" y1="308.82" x2="44.7" y2="308.82" stroke="#505050" stroke-width="0.8"/>
<line x1="43.2" y1="344.65" x2="45.800000000000004" y2="344.65" stroke="#505050" stroke-width="1"/>
<line x1="43.2" y1="370.90" x2="44.7" y2="370.90" stroke="#505050" stroke-width="0.8"/>
<line x1="43.2" y1="364.28" x2="44.7" y2="364.28" stroke="#505050" stroke-width="0.8"/>
<line x1="43.2" y1="359.59" x2="44.7" y2="359.59" stroke="#505050" stroke-width="0.8"/>
<line x1="43.2" y1="355.95" x2="44.7" y2="355.95" stroke="#505050" stroke-width="0.8"/>
<line x1="43.2" y1="352.98" x2="44.7" y2="352.98" stroke="#505050" stroke-width="0.8"/>
<line x1="43.2" y1="350.47" x2="44.7" y2="350.47" stroke="#505050" stroke-width="0.8"/>
<line x1="43.2" y1="348.29" x2="44.7" y2="348.29" stroke="#505050" stroke-width="0.8"/>
<line x1="43.2" y1="346.37" x2="44.7" y2="346.37" stroke="#505050" stroke-width="0.8"/>
<line x1="43.2" y1="382.20" x2="45.800000000000004" y2="382.20" stroke="#505050" stroke-width="1"/>
<text x="43.20" y="397.60" text-anchor="middle" font-size="13.2">0</text>
<text x="70.70" y="397.60" text-anchor="middle" font-size="13.2">1</text>
<text x="98.20" y="397.60" text-anchor="middle" font-size="13.2">2</text>
<text x="125.70" y="397.60" text-anchor="middle" font-size="13.2">3</text>
<text x="153.20" y="397.60" text-anchor="middle" font-size="13.2">4</text>
<text x="180.70" y="397.60" text-anchor="middle" font-size="13.2">5</text>
<text x="208.20" y="397.60" text-anchor="middle" font-size="13.2">6</text>
<text x="235.70" y="397.60" text-anchor="middle" font-size="13.2">7</text>
<text x="263.20" y="397.60" text-anchor="middle" font-size="13.2">8</text>
<text x="31.90" y="237.20" text-anchor="end" font-size="13.3">10</text>
<text x="32.40" y="229.40" font-size="8.5">-1</text>
<text x="31.90" y="274.75" text-anchor="end" font-size="13.3">10</text>
<text x="32.40" y="266.95" font-size="8.5">-2</text>
<text x="31.90" y="312.30" text-anchor="end" font-size="13.3">10</text>
<text x="32.40" y="304.50" font-size="8.5">-3</text>
<text x="31.90" y="349.85" text-anchor="end" font-size="13.3">10</text>
<text x="32.40" y="342.05" font-size="8.5">-4</text>
<text x="31.90" y="387.40" text-anchor="end" font-size="13.3">10</text>
<text x="32.40" y="379.60" font-size="8.5">-5</text>
<polyline points="298.00,232.00 299.40,247.00 302.10,241.96 304.80,240.43 307.50,239.69 310.20,239.77 312.90,240.53 315.60,241.61 318.30,243.41 321.00,245.50 323.70,247.99 326.40,250.73 329.10,253.80 331.80,256.97 334.50,259.79 337.20,262.34 339.90,264.75 342.60,267.06 345.30,269.32 348.00,271.49 350.70,273.59 353.40,275.61 356.10,277.50 358.80,279.33 361.50,281.22 364.20,283.24 366.90,285.40 369.60,287.60 372.30,289.79 375.00,291.90 377.70,293.89 380.40,295.81 383.10,297.68 385.80,299.52 388.50,301.33 391.20,303.14 393.90,304.89 396.60,306.82 399.30,308.20 402.00,310.16 404.70,311.45 407.40,313.76 410.10,314.74 412.80,316.55 415.50,318.17 418.20,319.49 420.90,319.82 423.60,321.66 426.30,322.96 429.00,325.15 431.70,323.78 434.40,326.47 437.10,326.18 439.80,326.85 442.50,326.68 445.20,328.82 447.90,331.20 450.60,331.91 453.30,332.45 456.00,334.88 458.70,335.22 461.40,338.99 464.10,337.34 466.80,340.39 469.50,341.87 472.20,342.12 474.90,342.47 477.60,344.72 480.30,344.19 483.00,347.45 485.70,348.57 488.40,349.82 491.10,349.94 493.80,350.96 496.50,350.23 499.20,354.55 501.90,352.85 504.60,355.53 507.30,355.87 510.00,359.26 512.70,357.64 514.70,360.91" fill="none" stroke="#000000" stroke-width="1.9" stroke-linejoin="round" stroke-linecap="butt" />
<polyline points="298.00,232.00 299.20,244.00 301.90,242.54 304.60,241.38 307.30,241.02 310.00,241.37 312.70,242.03 315.40,243.02 318.10,245.07 320.80,247.37 323.50,249.81 326.20,252.38 328.90,255.11 331.60,257.87 334.30,260.43 337.00,262.76 339.70,265.01 342.40,267.28 345.10,269.67 347.80,272.13 350.50,274.57 353.20,276.93 355.90,279.21 358.60,281.41 361.30,283.48 364.00,285.45 366.70,287.35 369.40,289.20 372.10,291.03 374.80,292.86 377.50,294.70 380.20,296.51 382.90,298.31 385.60,300.10 388.30,301.88 391.00,303.66 393.70,305.16 396.40,307.25 399.10,308.85 401.80,311.37 404.50,312.15 407.20,315.43 409.90,316.07 412.60,318.98 415.30,320.18 418.00,321.89 420.70,323.27 423.40,325.04 426.10,327.52 428.80,329.68 431.50,330.16 434.20,333.11 436.90,332.67 439.60,337.29 442.30,337.85 445.00,340.79 447.70,342.26 450.40,347.53 453.10,347.73 455.80,348.73 458.50,349.41 461.20,350.49 463.90,351.97 466.60,354.09 469.30,354.32 472.00,358.43 474.70,356.21 477.40,361.94 480.10,360.25 482.80,364.63 485.50,365.67 488.20,368.01 490.90,369.59 493.60,373.62 496.30,376.08 499.00,380.75 501.70,378.65 504.40,378.40 507.10,377.94 509.80,382.20 512.50,381.64 514.70,382.20" fill="none" stroke="#0000ff" stroke-width="1.9" stroke-linejoin="round" stroke-linecap="butt" />
<polyline points="298.00,232.00 298.80,243.50 301.50,243.49 304.20,243.74 306.90,244.18 309.60,245.04 312.30,246.32 315.00,247.73 317.70,249.45 320.40,251.40 323.10,253.60 325.80,255.90 328.50,258.23 331.20,260.56 333.90,262.63 336.60,264.34 339.30,265.88 342.00,267.52 344.70,269.46 347.40,271.65 350.10,273.97 352.80,276.28 355.50,278.66 358.20,281.04 360.90,283.18 363.60,285.10 366.30,286.91 369.00,288.64 371.70,290.35 374.40,292.10 377.10,293.89 379.80,295.66 382.50,297.42 385.20,299.21 387.90,301.03 390.60,302.93 393.30,304.93 396.00,306.97 398.70,308.79 401.40,310.97 404.10,312.92 406.80,315.23 409.50,317.08 412.20,318.97 414.90,319.68 417.60,321.93 420.30,323.60 423.00,325.18 425.70,326.35 428.40,328.28 431.10,330.47 433.80,331.13 436.50,330.99 439.20,335.19 441.90,335.35 444.60,338.18 447.30,339.35 450.00,342.21 452.70,342.07 455.40,345.77 458.10,344.12 460.80,347.81 463.50,346.75 466.20,350.32 468.90,347.67 471.60,352.26 474.30,353.22 477.00,356.44 479.70,355.92 482.40,357.97 485.10,359.93 487.80,363.04 490.50,360.85 493.20,365.13 495.90,365.93 498.60,368.77 501.30,368.34 504.00,372.65 506.70,370.82 509.40,369.85 512.10,370.76 514.70,376.47" fill="none" stroke="#ff0000" stroke-width="1.9" stroke-linejoin="round" stroke-linecap="butt" />
<polyline points="298.00,232.00 298.60,243.30 301.30,243.64 304.00,243.89 306.70,244.24 309.40,245.06 312.10,246.31 314.80,247.72 317.50,249.41 320.20,251.35 322.90,253.53 325.60,255.83 328.30,258.16 331.00,260.49 333.70,262.59 336.40,264.32 339.10,265.88 341.80,267.50 344.50,269.40 347.20,271.58 349.90,273.87 352.60,276.12 355.30,278.31 358.00,280.48 360.70,282.51 363.40,284.40 366.10,286.21 368.80,287.97 371.50,289.71 374.20,291.47 376.90,293.25 379.60,295.00 382.30,296.75 385.00,298.52 387.70,300.36 390.40,302.30 393.10,304.42 395.80,306.89 398.50,308.85 401.20,311.10 403.90,312.23 406.60,314.38 409.30,315.27 412.00,317.23 414.70,318.58 417.40,319.94 420.10,321.31 422.80,323.95 425.50,324.43 428.20,325.77 430.90,328.02 433.60,330.73 436.30,329.96 439.00,332.49 441.70,332.71 444.40,333.87 447.10,335.49 449.80,337.92 452.50,337.79 455.20,340.57 457.90,340.17 460.60,344.29 463.30,344.97 466.00,344.90 468.70,346.11 471.40,349.42 474.10,348.77 476.80,350.57 479.50,351.29 482.20,354.82 484.90,354.03 487.60,356.89 490.30,358.18 493.00,359.89 495.70,361.21 498.40,363.58 501.10,364.54 503.80,366.68 506.50,369.58 509.20,371.99 511.90,373.43 514.70,375.55" fill="none" stroke="#00ff00" stroke-width="1.9" stroke-linejoin="round" stroke-linecap="butt" />
<polyline points="298.00,232.00 298.60,243.30 301.30,243.64 304.00,243.94 306.70,244.34 309.40,245.18 312.10,246.42 314.80,247.82 317.50,249.51 320.20,251.45 322.90,253.63 325.60,255.93 328.30,258.26 331.00,260.59 333.70,262.69 336.40,264.42 339.10,265.98 341.80,267.60 344.50,269.50 347.20,271.69 349.90,273.98 352.60,276.22 355.30,278.38 358.00,280.50 360.70,282.50 363.40,284.39 366.10,286.19 368.80,287.96 371.50,289.70 374.20,291.47 376.90,293.25 379.60,294.98 382.30,296.71 385.00,298.47 387.70,300.32 390.40,302.30 393.10,304.51 395.80,307.19 398.50,309.42 401.20,311.58 403.90,312.89 406.60,315.22 409.30,316.24 412.00,317.70 414.70,318.58 417.40,321.17 420.10,321.09 422.80,321.99 425.50,324.76 428.20,325.79 430.90,326.60 433.60,328.43 436.30,329.91 439.00,331.04 441.70,331.89 444.40,332.34 447.10,335.02 449.80,337.24 452.50,335.84 455.20,339.06 457.90,338.84 460.60,343.24 463.30,341.68 466.00,343.68 468.70,344.11 471.40,348.43 474.10,349.33 476.80,350.67 479.50,351.01 482.20,354.30 484.90,353.59 487.60,355.80 490.30,355.47 493.00,356.93 495.70,357.09 498.40,360.15 501.10,359.15 503.80,362.98 506.50,363.51 509.20,366.81 511.90,367.08 514.70,370.00" fill="none" stroke="#ffff00" stroke-width="1.9" stroke-linejoin="round" stroke-linecap="butt" />
<polyline points="298.00,232.00 298.50,243.00 301.20,243.76 303.90,244.11 306.60,244.52 309.30,245.39 312.00,246.65 314.70,248.07 317.40,249.75 320.10,251.67 322.80,253.84 325.50,256.15 328.20,258.47 330.90,260.82 333.60,262.92 336.30,264.65 339.00,266.18 341.70,267.76 344.40,269.59 347.10,271.65 349.80,273.80 352.50,275.86 355.20,277.75 357.90,279.57 360.60,281.42 363.30,283.31 366.00,285.23 368.70,287.15 371.40,289.05 374.10,290.90 376.80,292.67 379.50,294.37 382.20,296.04 384.90,297.70 387.60,299.41 390.30,301.22 393.00,303.12 395.70,305.19 398.40,306.83 401.10,309.06 403.80,310.49 406.50,312.66 409.20,313.75 411.90,315.48 414.60,315.93 417.30,318.69 420.00,319.54 422.70,320.83 425.40,321.64 428.10,323.81 430.80,324.15 433.50,327.30 436.20,327.24 438.90,329.15 441.60,329.84 444.30,332.18 447.00,331.68 449.70,332.32 452.40,331.51 455.10,335.54 457.80,335.91 460.50,338.55 463.20,340.08 465.90,341.61 468.60,342.02 471.30,344.65 474.00,343.65 476.70,347.08 479.40,346.88 482.10,348.88 484.80,349.51 487.50,352.03 490.20,352.66 492.90,354.07 495.60,354.98 498.30,358.72 501.00,359.43 503.70,363.74 506.40,363.78 509.10,365.76 511.80,363.76 514.70,362.12" fill="none" stroke="#ff00ff" stroke-width="1.9" stroke-linejoin="round" stroke-linecap="butt" />
<polyline points="299.10,232.00 299.10,264.00 307.37,257.50 315.64,259.50 323.91,263.50 332.18,269.00 340.45,273.50 348.72,278.50 356.99,283.50 365.26,288.00 373.53,292.00 381.80,296.30 390.07,300.50 398.34,305.00 406.61,309.50 414.88,314.00 423.15,318.00 431.42,322.00 439.69,325.70 447.96,329.40 456.23,333.00 464.50,336.50 472.77,340.20 481.04,344.00 489.31,347.30 497.58,350.50 505.85,353.00 514.12,356.00" fill="none" stroke="#000" stroke-width="0.9" stroke-linejoin="round" stroke-linecap="butt" />
<polyline points="299.10,232.00 299.10,264.00 307.37,257.50 315.64,258.00 323.91,262.00 332.18,267.50 340.45,272.00 348.72,277.00 356.99,282.00 365.26,286.50 373.53,292.00 381.80,296.30 390.07,300.50 398.34,305.00 406.61,309.50 414.88,314.00 423.15,318.00 431.42,322.00 439.69,325.70 447.96,329.40 456.23,333.00 464.50,336.50 472.77,340.20 481.04,344.00 489.31,347.30 497.58,350.50 505.85,353.00 514.12,356.00" fill="none" stroke="#111" stroke-width="0.8" stroke-linejoin="round" stroke-linecap="butt" />
<circle cx="299.10" cy="264.00" r="0.8" fill="#000"/>
<circle cx="307.37" cy="257.50" r="0.8" fill="#000"/>
<circle cx="315.64" cy="258.00" r="0.8" fill="#000"/>
<circle cx="323.91" cy="262.00" r="0.8" fill="#000"/>
<circle cx="332.18" cy="267.50" r="0.8" fill="#000"/>
<circle cx="340.45" cy="272.00" r="0.8" fill="#000"/>
<circle cx="348.72" cy="277.00" r="0.8" fill="#000"/>
<circle cx="356.99" cy="282.00" r="0.8" fill="#000"/>
<circle cx="365.26" cy="286.50" r="0.8" fill="#000"/>
<circle cx="373.53" cy="292.00" r="0.8" fill="#000"/>
<circle cx="381.80" cy="296.30" r="0.8" fill="#000"/>
<circle cx="390.07" cy="300.50" r="0.8" fill="#000"/>
<circle cx="398.34" cy="305.00" r="0.8" fill="#000"/>
<circle cx="406.61" cy="309.50" r="0.8" fill="#000"/>
<circle cx="414.88" cy="314.00" r="0.8" fill="#000"/>
<circle cx="423.15" cy="318.00" r="0.8" fill="#000"/>
<circle cx="431.42" cy="322.00" r="0.8" fill="#000"/>
<circle cx="439.69" cy="325.70" r="0.8" fill="#000"/>
<circle cx="447.96" cy="329.40" r="0.8" fill="#000"/>
<circle cx="456.23" cy="333.00" r="0.8" fill="#000"/>
<circle cx="464.50" cy="336.50" r="0.8" fill="#000"/>
<circle cx="472.77" cy="340.20" r="0.8" fill="#000"/>
<circle cx="481.04" cy="344.00" r="0.8" fill="#000"/>
<circle cx="489.31" cy="347.30" r="0.8" fill="#000"/>
<circle cx="497.58" cy="350.50" r="0.8" fill="#000"/>
<circle cx="505.85" cy="353.00" r="0.8" fill="#000"/>
<circle cx="514.12" cy="356.00" r="0.8" fill="#000"/>
<path d="M296.90,261.80L301.30,266.20M296.90,266.20L301.30,261.80" stroke="#222" stroke-width="0.6" fill="none"/>
<path d="M305.17,255.30L309.57,259.70M305.17,259.70L309.57,255.30" stroke="#222" stroke-width="0.6" fill="none"/>
<path d="M313.44,257.30L317.84,261.70M313.44,261.70L317.84,257.30" stroke="#222" stroke-width="0.6" fill="none"/>
<path d="M321.71,261.30L326.11,265.70M321.71,265.70L326.11,261.30" stroke="#222" stroke-width="0.6" fill="none"/>
<path d="M329.98,266.80L334.38,271.20M329.98,271.20L334.38,266.80" stroke="#222" stroke-width="0.6" fill="none"/>
<path d="M338.25,271.30L342.65,275.70M338.25,275.70L342.65,271.30" stroke="#222" stroke-width="0.6" fill="none"/>
<path d="M346.52,276.30L350.92,280.70M346.52,280.70L350.92,276.30" stroke="#222" stroke-width="0.6" fill="none"/>
<path d="M354.79,281.30L359.19,285.70M354.79,285.70L359.19,281.30" stroke="#222" stroke-width="0.6" fill="none"/>
<path d="M363.06,285.80L367.46,290.20M363.06,290.20L367.46,285.80" stroke="#222" stroke-width="0.6" fill="none"/>
<path d="M371.33,289.80L375.73,294.20M371.33,294.20L375.73,289.80" stroke="#222" stroke-width="0.6" fill="none"/>
<path d="M379.60,294.10L384.00,298.50M379.60,298.50L384.00,294.10" stroke="#222" stroke-width="0.6" fill="none"/>
<path d="M387.87,298.30L392.27,302.70M387.87,302.70L392.27,298.30" stroke="#222" stroke-width="0.6" fill="none"/>
<path d="M396.14,302.80L400.54,307.20M396.14,307.20L400.54,302.80" stroke="#222" stroke-width="0.6" fill="none"/>
<path d="M404.41,307.30L408.81,311.70M404.41,311.70L408.81,307.30" stroke="#222" stroke-width="0.6" fill="none"/>
<path d="M412.68,311.80L417.08,316.20M412.68,316.20L417.08,311.80" stroke="#222" stroke-width="0.6" fill="none"/>
<path d="M420.95,315.80L425.35,320.20M420.95,320.20L425.35,315.80" stroke="#222" stroke-width="0.6" fill="none"/>
<path d="M429.22,319.80L433.62,324.20M429.22,324.20L433.62,319.80" stroke="#222" stroke-width="0.6" fill="none"/>
<path d="M437.49,323.50L441.89,327.90M437.49,327.90L441.89,323.50" stroke="#222" stroke-width="0.6" fill="none"/>
<path d="M445.76,327.20L450.16,331.60M445.76,331.60L450.16,327.20" stroke="#222" stroke-width="0.6" fill="none"/>
<path d="M454.03,330.80L458.43,335.20M454.03,335.20L458.43,330.80" stroke="#222" stroke-width="0.6" fill="none"/>
<path d="M462.30,334.30L466.70,338.70M462.30,338.70L466.70,334.30" stroke="#222" stroke-width="0.6" fill="none"/>
<path d="M470.57,338.00L474.97,342.40M470.57,342.40L474.97,338.00" stroke="#222" stroke-width="0.6" fill="none"/>
<path d="M478.84,341.80L483.24,346.20M478.84,346.20L483.24,341.80" stroke="#222" stroke-width="0.6" fill="none"/>
<path d="M487.11,345.10L491.51,349.50M487.11,349.50L491.51,345.10" stroke="#222" stroke-width="0.6" fill="none"/>
<path d="M495.38,348.30L499.78,352.70M495.38,352.70L499.78,348.30" stroke="#222" stroke-width="0.6" fill="none"/>
<path d="M503.65,350.80L508.05,355.20M503.65,355.20L508.05,350.80" stroke="#222" stroke-width="0.6" fill="none"/>
<path d="M511.92,353.80L516.32,358.20M511.92,358.20L516.32,353.80" stroke="#222" stroke-width="0.6" fill="none"/>
<circle cx="299.10" cy="264.00" r="4.4" fill="none" stroke="#505050" stroke-width="0.95"/>
<circle cx="307.37" cy="257.50" r="4.4" fill="none" stroke="#505050" stroke-width="0.95"/>
<circle cx="315.64" cy="259.50" r="4.4" fill="none" stroke="#505050" stroke-width="0.95"/>
<circle cx="323.91" cy="263.50" r="4.4" fill="none" stroke="#505050" stroke-width="0.95"/>
<circle cx="332.18" cy="269.00" r="4.4" fill="none" stroke="#505050" stroke-width="0.95"/>
<circle cx="340.45" cy="273.50" r="4.4" fill="none" stroke="#505050" stroke-width="0.95"/>
<circle cx="348.72" cy="278.50" r="4.4" fill="none" stroke="#505050" stroke-width="0.95"/>
<circle cx="356.99" cy="283.50" r="4.4" fill="none" stroke="#505050" stroke-width="0.95"/>
<circle cx="365.26" cy="288.00" r="4.4" fill="none" stroke="#505050" stroke-width="0.95"/>
<circle cx="373.53" cy="292.00" r="4.4" fill="none" stroke="#505050" stroke-width="0.95"/>
<circle cx="381.80" cy="296.30" r="4.4" fill="none" stroke="#505050" stroke-width="0.95"/>
<circle cx="390.07" cy="300.50" r="4.4" fill="none" stroke="#505050" stroke-width="0.95"/>
<circle cx="398.34" cy="305.00" r="4.4" fill="none" stroke="#505050" stroke-width="0.95"/>
<circle cx="406.61" cy="309.50" r="4.4" fill="none" stroke="#505050" stroke-width="0.95"/>
<circle cx="414.88" cy="314.00" r="4.4" fill="none" stroke="#505050" stroke-width="0.95"/>
<circle cx="423.15" cy="318.00" r="4.4" fill="none" stroke="#505050" stroke-width="0.95"/>
<circle cx="431.42" cy="322.00" r="4.4" fill="none" stroke="#505050" stroke-width="0.95"/>
<circle cx="439.69" cy="325.70" r="4.4" fill="none" stroke="#505050" stroke-width="0.95"/>
<circle cx="447.96" cy="329.40" r="4.4" fill="none" stroke="#505050" stroke-width="0.95"/>
<circle cx="456.23" cy="333.00" r="4.4" fill="none" stroke="#505050" stroke-width="0.95"/>
<circle cx="464.50" cy="336.50" r="4.4" fill="none" stroke="#505050" stroke-width="0.95"/>
<circle cx="472.77" cy="340.20" r="4.4" fill="none" stroke="#505050" stroke-width="0.95"/>
<circle cx="481.04" cy="344.00" r="4.4" fill="none" stroke="#505050" stroke-width="0.95"/>
<circle cx="489.31" cy="347.30" r="4.4" fill="none" stroke="#505050" stroke-width="0.95"/>
<circle cx="497.58" cy="350.50" r="4.4" fill="none" stroke="#505050" stroke-width="0.95"/>
<circle cx="505.85" cy="353.00" r="4.4" fill="none" stroke="#505050" stroke-width="0.95"/>
<circle cx="514.12" cy="356.00" r="4.4" fill="none" stroke="#505050" stroke-width="0.95"/>
<line x1="295.0" y1="231.5" x2="295.0" y2="382.2" stroke="#505050" stroke-width="1.2"/>
<line x1="295.0" y1="382.2" x2="515.5" y2="382.2" stroke="#505050" stroke-width="1.2"/>
<line x1="322.56" y1="382.2" x2="322.56" y2="379.59999999999997" stroke="#505050" stroke-width="1"/>
<line x1="350.12" y1="382.2" x2="350.12" y2="379.59999999999997" stroke="#505050" stroke-width="1"/>
<line x1="377.69" y1="382.2" x2="377.69" y2="379.59999999999997" stroke="#505050" stroke-width="1"/>
<line x1="405.25" y1="382.2" x2="405.25" y2="379.59999999999997" stroke="#505050" stroke-width="1"/>
<line x1="432.81" y1="382.2" x2="432.81" y2="379.59999999999997" stroke="#505050" stroke-width="1"/>
<line x1="460.38" y1="382.2" x2="460.38" y2="379.59999999999997" stroke="#505050" stroke-width="1"/>
<line x1="487.94" y1="382.2" x2="487.94" y2="379.59999999999997" stroke="#505050" stroke-width="1"/>
<line x1="515.50" y1="382.2" x2="515.50" y2="379.59999999999997" stroke="#505050" stroke-width="1"/>
<line x1="295.0" y1="231.50" x2="297.6" y2="231.50" stroke="#505050" stroke-width="1"/>
<line x1="295.0" y1="257.83" x2="296.5" y2="257.83" stroke="#505050" stroke-width="0.8"/>
<line x1="295.0" y1="251.20" x2="296.5" y2="251.20" stroke="#505050" stroke-width="0.8"/>
<line x1="295.0" y1="246.49" x2="296.5" y2="246.49" stroke="#505050" stroke-width="0.8"/>
<line x1="295.0" y1="242.84" x2="296.5" y2="242.84" stroke="#505050" stroke-width="0.8"/>
<line x1="295.0" y1="239.86" x2="296.5" y2="239.86" stroke="#505050" stroke-width="0.8"/>
<line x1="295.0" y1="237.34" x2="296.5" y2="237.34" stroke="#505050" stroke-width="0.8"/>
<line x1="295.0" y1="235.15" x2="296.5" y2="235.15" stroke="#505050" stroke-width="0.8"/>
<line x1="295.0" y1="233.22" x2="296.5" y2="233.22" stroke="#505050" stroke-width="0.8"/>
<line x1="295.0" y1="269.18" x2="297.6" y2="269.18" stroke="#505050" stroke-width="1"/>
<line x1="295.0" y1="295.51" x2="296.5" y2="295.51" stroke="#505050" stroke-width="0.8"/>
<line x1="295.0" y1="288.87" x2="296.5" y2="288.87" stroke="#505050" stroke-width="0.8"/>
<line x1="295.0" y1="284.17" x2="296.5" y2="284.17" stroke="#505050" stroke-width="0.8"/>
<line x1="295.0" y1="280.52" x2="296.5" y2="280.52" stroke="#505050" stroke-width="0.8"/>
<line x1="295.0" y1="277.53" x2="296.5" y2="277.53" stroke="#505050" stroke-width="0.8"/>
<line x1="295.0" y1="275.01" x2="296.5" y2="275.01" stroke="#505050" stroke-width="0.8"/>
<line x1="295.0" y1="272.83" x2="296.5" y2="272.83" stroke="#505050" stroke-width="0.8"/>
<line x1="295.0" y1="270.90" x2="296.5" y2="270.90" stroke="#505050" stroke-width="0.8"/>
<line x1="295.0" y1="306.85" x2="297.6" y2="306.85" stroke="#505050" stroke-width="1"/>
<line x1="295.0" y1="333.18" x2="296.5" y2="333.18" stroke="#505050" stroke-width="0.8"/>
<line x1="295.0" y1="326.55" x2="296.5" y2="326.55" stroke="#505050" stroke-width="0.8"/>
<line x1="295.0" y1="321.84" x2="296.5" y2="321.84" stroke="#505050" stroke-width="0.8"/>
<line x1="295.0" y1="318.19" x2="296.5" y2="318.19" stroke="#505050" stroke-width="0.8"/>
<line x1="295.0" y1="315.21" x2="296.5" y2="315.21" stroke="#505050" stroke-width="0.8"/>
<line x1="295.0" y1="312.69" x2="296.5" y2="312.69" stroke="#505050" stroke-width="0.8"/>
<line x1="295.0" y1="310.50" x2="296.5" y2="310.50" stroke="#505050" stroke-width="0.8"/>
<line x1="295.0" y1="308.57" x2="296.5" y2="308.57" stroke="#505050" stroke-width="0.8"/>
<line x1="295.0" y1="344.52" x2="297.6" y2="344.52" stroke="#505050" stroke-width="1"/>
<line x1="295.0" y1="370.86" x2="296.5" y2="370.86" stroke="#505050" stroke-width="0.8"/>
<line x1="295.0" y1="364.22" x2="296.5" y2="364.22" stroke="#505050" stroke-width="0.8"/>
<line x1="295.0" y1="359.52" x2="296.5" y2="359.52" stroke="#505050" stroke-width="0.8"/>
<line x1="295.0" y1="355.87" x2="296.5" y2="355.87" stroke="#505050" stroke-width="0.8"/>
<line x1="295.0" y1="352.88" x2="296.5" y2="352.88" stroke="#505050" stroke-width="0.8"/>
<line x1="295.0" y1="350.36" x2="296.5" y2="350.36" stroke="#505050" stroke-width="0.8"/>
<line x1="295.0" y1="348.18" x2="296.5" y2="348.18" stroke="#505050" stroke-width="0.8"/>
<line x1="295.0" y1="346.25" x2="296.5" y2="346.25" stroke="#505050" stroke-width="0.8"/>
<line x1="295.0" y1="382.20" x2="297.6" y2="382.20" stroke="#505050" stroke-width="1"/>
<text x="295.00" y="397.60" text-anchor="middle" font-size="13.2">0</text>
<text x="322.56" y="397.60" text-anchor="middle" font-size="13.2">1</text>
<text x="350.12" y="397.60" text-anchor="middle" font-size="13.2">2</text>
<text x="377.69" y="397.60" text-anchor="middle" font-size="13.2">3</text>
<text x="405.25" y="397.60" text-anchor="middle" font-size="13.2">4</text>
<text x="432.81" y="397.60" text-anchor="middle" font-size="13.2">5</text>
<text x="460.38" y="397.60" text-anchor="middle" font-size="13.2">6</text>
<text x="487.94" y="397.60" text-anchor="middle" font-size="13.2">7</text>
<text x="515.50" y="397.60" text-anchor="middle" font-size="13.2">8</text>
<line x1="301.8" y1="324.2" x2="324" y2="324.2" stroke="#000" stroke-width="0.9"/>
<circle cx="313" cy="324.2" r="1.3" fill="#000"/>
<text x="328.2" y="327.40" font-size="12">mean(λ</text>
<text x="363.6" y="322.60" font-size="9.2">PDF</text>
<text x="363" y="333.60" font-size="9.6">ci XY</text>
<text x="385.0" y="329.40" font-size="13">)</text>
<line x1="301.8" y1="345.8" x2="324" y2="345.8" stroke="#000" stroke-width="0.9"/>
<path d="M309.4,342.2L316.6,349.40000000000003M309.4,349.40000000000003L316.6,342.2" stroke="#000" stroke-width="0.8" fill="none"/>
<text x="328.2" y="349.00" font-size="12">mean(λ</text>
<text x="363.6" y="344.20" font-size="9.2">PDF</text>
<text x="363" y="355.20" font-size="9.6">ci XZ</text>
<text x="385.0" y="351.00" font-size="13">)</text>
<line x1="301.8" y1="366.9" x2="324" y2="366.9" stroke="#000" stroke-width="0.9"/>
<circle cx="313" cy="366.9" r="4.5" fill="none" stroke="#222" stroke-width="1"/>
<text x="328.2" y="370.10" font-size="12">mean(λ</text>
<text x="363.6" y="365.30" font-size="9.2">PDF</text>
<text x="363" y="376.30" font-size="9.6">ci YZ</text>
<text x="385.0" y="372.10" font-size="13">)</text>
<text x="112.2" y="191" font-size="13">λ</text>
<text x="119.8" y="197" font-size="10.2">ci XY</text>
<text x="144.6" y="191" font-size="13">/λ</text>
<text x="155.8" y="184.8" font-size="10.2">rms</text>
<text x="155.8" y="197" font-size="10.2">ci XY</text>
<text x="371.8" y="192" font-size="13">λ</text>
<text x="379.6" y="198" font-size="10.2">ci XZ</text>
<text x="403.8" y="192" font-size="13">/λ</text>
<text x="414.8" y="185.8" font-size="10.2">rms</text>
<text x="414.8" y="198" font-size="10.2">ci XZ</text>
<text x="116.8" y="414.8" font-size="13">λ</text>
<text x="123.8" y="420.8" font-size="10.2">ci YZ</text>
<text x="148.6" y="414.8" font-size="13">/λ</text>
<text x="159.8" y="408.6" font-size="10.2">rms</text>
<text x="159.8" y="420.8" font-size="10.2">ci YZ</text>
<text x="371.8" y="414" font-size="13">λ</text>
<text x="378.4" y="420" font-size="10.2">ci 3D</text>
<text x="401.8" y="414" font-size="13">/λ</text>
<text x="413.8" y="407.8" font-size="10.2">rms</text>
<text x="413.8" y="420" font-size="10.2">ci 3D</text>
<text x="150" y="215.3" text-anchor="middle" font-size="16">(a)</text>
<text x="405.5" y="215.3" text-anchor="middle" font-size="16">(b)</text>
<text x="150" y="439.3" text-anchor="middle" font-size="16">(c)</text>
<text x="405.5" y="439.3" text-anchor="middle" font-size="16">(d)</text>
<text transform="translate(12.4,84.6) rotate(-90)" text-anchor="middle" font-size="11.6" textLength="17.6" lengthAdjust="spacingAndGlyphs">pdf</text>
<text transform="translate(11.8,307.2) rotate(-90)" text-anchor="middle" font-size="11.6" textLength="17.6" lengthAdjust="spacingAndGlyphs">pdf</text>
</svg>
</body></html>
